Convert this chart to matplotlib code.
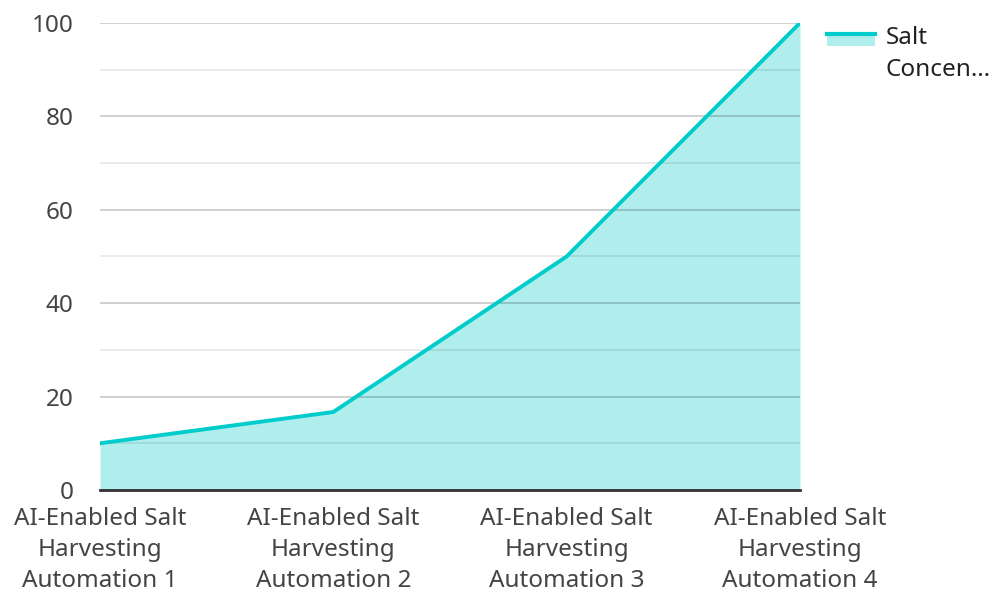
import matplotlib
matplotlib.use('Agg')
import matplotlib.pyplot as plt
from matplotlib.legend_handler import HandlerBase
from matplotlib.patches import Rectangle
from matplotlib.lines import Line2D
from matplotlib.ticker import MultipleLocator

plt.rcParams['font.family'] = ['Noto Sans', 'DejaVu Sans']

categories = [
    'AI-Enabled Salt\nHarvesting\nAutomation 1',
    'AI-Enabled Salt\nHarvesting\nAutomation 2',
    'AI-Enabled Salt\nHarvesting\nAutomation 3',
    'AI-Enabled Salt\nHarvesting\nAutomation 4',
]
salt_concentration = [10, 16.7, 50, 100]
series_label = 'Salt\nConcen\u2026'

LINE = '#00cccc'
FILL = '#b0eeee'
TEXT = '#444444'
FS = 17.5


class AreaHandler(HandlerBase):
    # legend key: filled box with the line drawn along its top edge,
    # level with the first line of a two-line label
    def create_artists(self, legend, orig, xd, yd, w, h, fontsize, trans):
        base = -yd
        top = base + 1.20 * fontsize
        bottom = base + 0.71 * fontsize
        box = Rectangle((-xd, bottom), w, top - bottom,
                        facecolor=FILL, edgecolor='none', transform=trans)
        ln = Line2D([-xd, -xd + w], [top, top], color=LINE, lw=3,
                    transform=trans)
        return [box, ln]


fig = plt.figure(figsize=(9.93, 5.94), dpi=100)
ax = fig.add_axes([0.1007, 0.1751, 0.7049, 0.7862])

x = list(range(len(categories)))
ax.fill_between(x, salt_concentration, 0, color=FILL, lw=0, zorder=1)
area_line, = ax.plot(x, salt_concentration, color=LINE, lw=2.8,
                     solid_joinstyle='round', zorder=4)

ax.set_xlim(0, len(categories) - 1)
ax.set_ylim(0, 100)
ax.yaxis.set_major_locator(MultipleLocator(20))
ax.yaxis.set_minor_locator(MultipleLocator(10))
ax.grid(True, which='major', axis='y', color='#000000', alpha=0.2, lw=1.3, zorder=2)
ax.grid(True, which='minor', axis='y', color='#000000', alpha=0.09, lw=1.3, zorder=2)
ax.set_axisbelow(False)

ax.set_xticks(x)
ax.set_xticklabels(categories)
for lbl in ax.get_xticklabels():
    lbl.set_linespacing(1.41)
ax.tick_params(axis='both', which='both', length=0, labelsize=FS,
               colors=TEXT)
ax.tick_params(axis='x', pad=12)
ax.tick_params(axis='y', pad=19)

for side in ('top', 'right', 'left'):
    ax.spines[side].set_visible(False)
ax.spines['bottom'].set_color('#333333')
ax.spines['bottom'].set_linewidth(2)
ax.spines['bottom'].set_zorder(5)

leg = fig.legend([area_line], [series_label], handler_map={Line2D: AreaHandler()},
                 loc='upper left', bbox_to_anchor=(0.833, 0.956), frameon=False,
                 fontsize=FS, labelcolor='#222222', handlelength=1.95,
                 handletextpad=0.45, borderaxespad=0, borderpad=0)
for t in leg.get_texts():
    t.set_linespacing(1.46)

fig.savefig('out.png', dpi=100)
